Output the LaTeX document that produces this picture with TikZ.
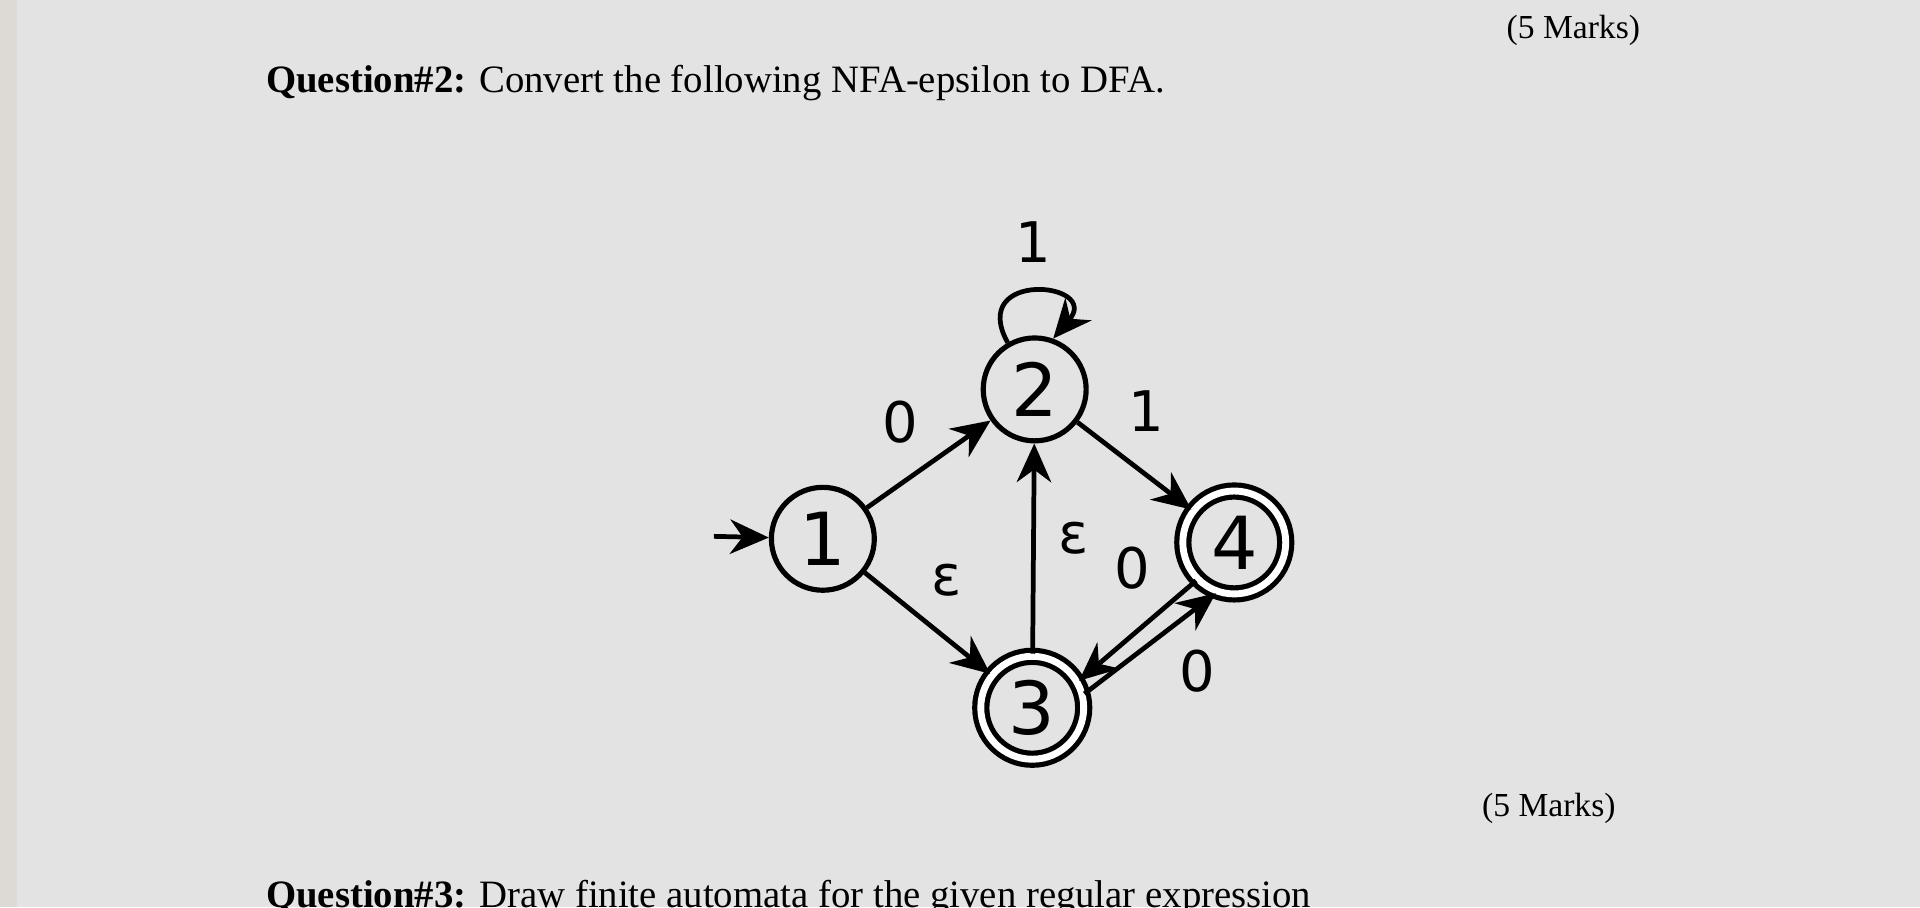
\documentclass[tikz,border=0pt]{standalone}
\usepackage{fontspec}
\setmainfont{Liberation Serif}
\newfontfamily\lblfont{DejaVu Sans}
\usetikzlibrary{arrows.meta}
\begin{document}
\begin{tikzpicture}[x=0.01cm,y=-0.01cm,
  st/.style={circle,draw,line width=1.2pt,minimum size=0.84cm,inner sep=0pt,font=\lblfont\fontsize{17}{17}\selectfont},
  acc/.style={st,double,double distance=1.6pt},
  tr/.style={-{Stealth[length=9pt,width=8pt]},line width=1.1pt},
  lb/.style={font=\lblfont\fontsize{13}{13}\selectfont},
  tx/.style={font=\fontsize{7.8}{9}\selectfont,anchor=west}]
\useasboundingbox (0,0) rectangle (1568,741);
\fill[gray!22] (0,0) rectangle (1568,741);
\fill[brown!20!gray!30] (0,0) rectangle (14,741);
\node[tx] (m1) at (1218,25) {(5 Marks)};
\node[tx,font=\fontsize{9}{11}\selectfont] (q2) at (205,68) {\textbf{Question\#2:} Convert the following NFA-epsilon to DFA.};
\node[tx] (m2) at (1198,660) {(5 Marks)};
\node[tx,font=\fontsize{9}{11}\selectfont] (q3) at (205,733) {\textbf{Question\#3:} Draw finite automata for the given regular expression};
\node[st] (n1) at (672,440) {1};
\node[st] (n2) at (845,318) {2};
\node[acc] (n3) at (843,578) {3};
\node[acc] (n4) at (1008,443) {4};
\coordinate (s) at (583,438);
\draw[tr] (s) -- (n1);
\draw[tr] (n1) -- node[lb,above left,pos=0.55]{0} (n2);
\draw[tr] (n2) -- node[lb,above right,pos=0.3]{1} (n4);
\draw[tr] (n1) -- node[lb,above right,pos=0.4]{ε} (n3);
\draw[tr] (n3) -- node[lb,right=2pt,pos=0.55]{ε} (n2);
\draw[tr] (n4.225) -- node[lb,above left,pos=0.25]{0} (n3.30);
\draw[tr] (n3.15) -- node[lb,below right,pos=0.6]{0} (n4.250);
\draw[tr] (n2.120) .. controls (790,220) and (900,230) .. node[lb,above=3pt,pos=0.5]{1} (n2.70);
\end{tikzpicture}
\end{document}
